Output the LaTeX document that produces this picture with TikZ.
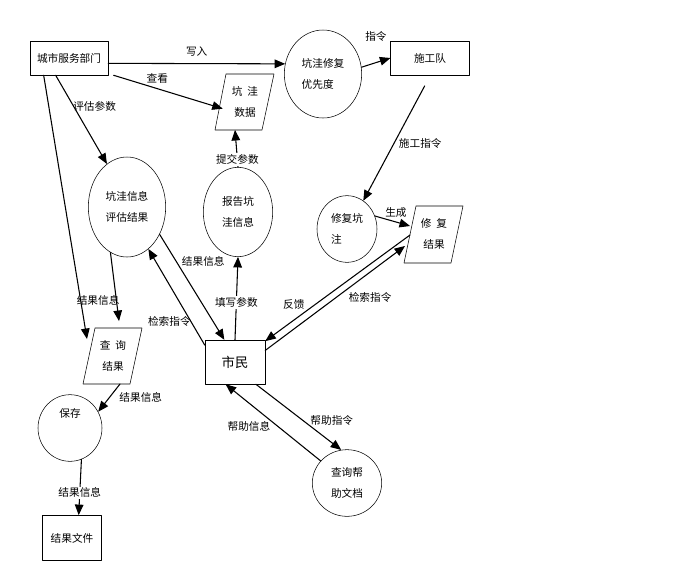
\documentclass[tikz,border=0pt]{standalone}
\usepackage{fontspec}
\setmainfont{Noto Sans CJK SC}
\usetikzlibrary{arrows,shapes.geometric}
\tikzset{
  box/.style={draw,rectangle,inner sep=0pt},
  proc/.style={draw,ellipse,inner sep=0pt,align=left},
  lbl/.style={font=\fontsize{8}{9}\selectfont},
  flow/.style={->,>=triangle 45,thick}
}
\begin{document}
\begin{tikzpicture}[line cap=round,line join=round,x=0.75pt,y=-0.75pt,font=\fontsize{8}{16}\selectfont]
\useasboundingbox (0,0) rectangle (682,587);
% entities
\node[box,minimum width=58.5pt,minimum height=25.5pt] (csbm) at (69,58) {城市服务部门};
\node[box,minimum width=59pt,minimum height=25.5pt] (sgd) at (430,58) {施工队};
\node[box,minimum width=45pt,minimum height=33pt,font=\fontsize{10}{11}\selectfont] (sm) at (235,362) {市民};
\node[box,minimum width=44pt,minimum height=34pt] (jgwj) at (72,538) {结果文件};
% processes
\node[proc,minimum width=58pt,minimum height=66pt] (yxd) at (323,74) {坑洼修复\\优先度};
\node[proc,minimum width=58pt,minimum height=75pt] (pgjg) at (127,207) {坑洼信息\\评估结果};
\node[proc,minimum width=52pt,minimum height=67pt] (bgxx) at (238,212) {报告坑\\洼信息};
\node[proc,minimum width=45pt,minimum height=50pt] (xfkw) at (347,229) {修复坑\\注};
\node[proc,minimum width=48pt,minimum height=50pt] (bc) at (70,428) {保存\\[6pt]};
\node[proc,minimum width=52pt,minimum height=50pt] (cxbz) at (347,483) {查询帮\\助文档};
% stores
\draw (226,74) -- (274,74) -- (262,130) -- (215,130) -- cycle;
\node[align=center,inner sep=0pt,minimum width=33pt,minimum height=42pt] (wsj) at (245,102) {坑\ \ 洼\\数据};
\draw (416,206) -- (463,206) -- (451,263) -- (404,263) -- cycle;
\node[align=center,inner sep=0pt,minimum width=33pt,minimum height=42pt] (xfjg) at (434,234) {修\ \ 复\\结果};
\draw (95,328) -- (142,328) -- (130,384) -- (83,384) -- cycle;
\node[align=center,inner sep=0pt,minimum width=33pt,minimum height=42pt] (cxjg) at (113,356) {查\ \ 询\\结果};
% flows
\draw[flow] ([yshift=-4pt]csbm.east) -- node[lbl,above,pos=.5,yshift=2pt] {写入} (yxd.165);
\draw[flow] ([xshift=4pt]csbm.south east) -- node[lbl,above,pos=.4] {查看} ([yshift=-5pt]wsj.west);
\draw[flow] (yxd.10) -- node[lbl,above,yshift=12pt] {指令} (sgd.west);
\draw[flow] ([xshift=-4pt,yshift=-8pt]sgd.south) -- node[lbl,right,pos=.5] {施工指令} (xfkw.60);
\draw[flow] (xfkw.25) -- node[lbl,above,pos=.6] {生成} (410,226);
\draw[flow] ([xshift=-10pt]csbm.south) -- node[lbl,right,pos=.35,xshift=-4pt] {评估参数} (pgjg.115);
\draw[flow] ([xshift=-19pt]csbm.south) -- (87,339);
\draw[flow] (pgjg.250) -- node[lbl,left,pos=.7,xshift=6pt] {结果信息} (119,321);
\draw[flow] (bgxx.north) -- node[lbl,pos=.2,fill=white,inner sep=1pt] {提交参数} (235,130);
\draw[flow] (sm.north) -- node[lbl,pos=.45,fill=white,inner sep=1pt] {填写参数} (bgxx.south);
\draw[flow] (pgjg.320) -- node[lbl,above right,pos=.35,xshift=-4pt] {结果信息} ([xshift=-8pt]sm.north);
\draw[flow] ([yshift=-4pt]sm.north west) -- node[lbl,below left,pos=.35,xshift=8pt] {检索指令} (pgjg.297);
\draw[flow] (410,235) -- node[lbl,above left,pos=.75,xshift=6pt] {反馈} ([yshift=-1pt]sm.north east);
\draw[flow] ([yshift=-8pt]sm.north east) -- node[lbl,below right,pos=.6,xshift=-4pt] {检索指令} (405,246);
\draw[flow] (120,384) -- node[lbl,right,pos=.5,xshift=4pt] {结果信息} (bc.30);
\draw[flow] (bc.290) -- node[lbl,pos=.6,fill=white,inner sep=1pt] {结果信息} ([xshift=5pt]jgwj.north);
\draw[flow] ([xshift=-7pt]sm.south east) -- node[lbl,right,pos=.55,xshift=2pt] {帮助指令} (cxbz.100);
\draw[flow] (cxbz.140) -- node[lbl,left,pos=.45,xshift=-2pt] {帮助信息} ([xshift=-7pt]sm.south);
\end{tikzpicture}
\end{document}
